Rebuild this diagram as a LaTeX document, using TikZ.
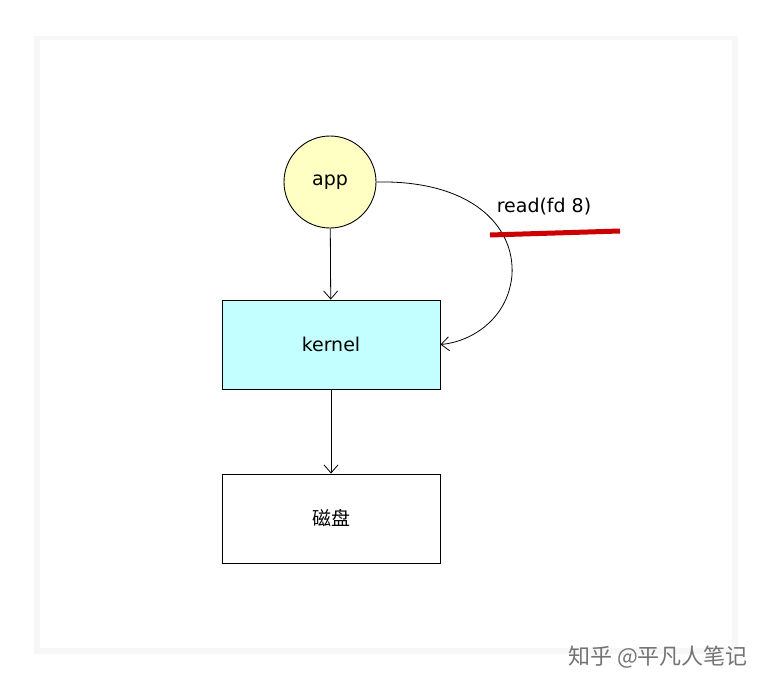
\documentclass[tikz,border=0pt]{standalone}
\usepackage{fontspec}
\setmainfont{DejaVu Sans}
\newfontfamily\cjk{Noto Sans CJK SC}
\usetikzlibrary{arrows.meta}
\tikzset{>={Straight Barb[length=8pt,width=14pt]}}
\definecolor{appyellow}{HTML}{FFFFC4}
\definecolor{kerncyan}{HTML}{C4FFFF}
\newcommand\bigtext{\fontsize{19}{22}\selectfont}
\tikzstyle{box}=[draw,line width=0.9,minimum width=218pt,minimum height=89pt,font=\bigtext]
\tikzstyle{link}=[->,line width=0.8]

\begin{document}
\begin{tikzpicture}[x=1pt,y=-1pt]
  % PAGE
  \useasboundingbox (0,0) rectangle (772,688);
  \fill[black!3] (34,36) rectangle (738,654);
  \fill[white] (40,40) rectangle (732,648);

  % NODES
  \node[draw,circle,fill=appyellow,minimum size=92pt,line width=0.9,font=\bigtext] (app) at (330,182) {app};
  \node[box,fill=kerncyan] (kernel) at (331,344.5) {kernel};
  \node[box] (disk) at (331,518.5) {\cjk 磁盘};

  % LINKS
  \draw[link] (app) -- (kernel);
  \draw[link] (kernel) -- (disk);
  \draw[link] (app.east) .. controls (470,180) and (515,225) .. (512,275)
    .. controls (508,320) and (470,342) .. (kernel.east);
  \node[font=\bigtext] (read) at (544,207) {read(fd 8)};
  \draw[red!80!black,line width=5] (490,235) -- (620,231);

  % WATERMARK
  \node[black!55,font=\cjk\fontsize{22}{24}\selectfont] (mark) at (658,657) {知乎 @平凡人笔记};
\end{tikzpicture}
\end{document}
